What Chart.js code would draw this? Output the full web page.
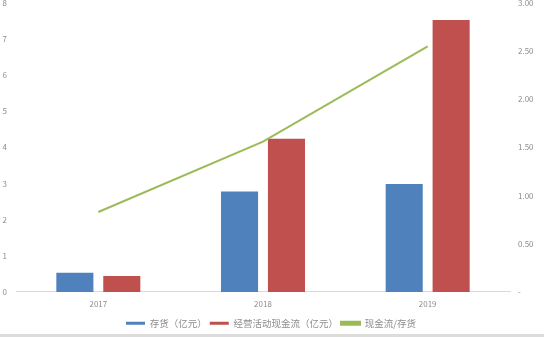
<!DOCTYPE html>
<html>
<head>
<meta charset="utf-8">
<script src="https://cdn.jsdelivr.net/npm/chart.js@4"></script>
<style>
  html, body { margin: 0; padding: 0; background: #fff; overflow: hidden; }
  #wrap { position: relative; width: 544px; height: 338px; }
  #bottom-rule { position: absolute; left: 0; top: 334px; width: 544px; height: 3px; background: #dcdcdc; }
</style>
</head>
<body>
<div id="wrap"><canvas id="chart"></canvas></div>
<div id="bottom-rule"></div>
<script>
var years = ['2017', '2018', '2019']
var inventory = [0.53, 2.78, 2.99]
var operatingCash = [0.44, 4.24, 7.53]
var cashToInventory = [0.83, 1.56, 2.55]

var font = { family: "'Noto Sans CJK SC', 'Noto Sans', sans-serif", size: 8 }
var grey = '#8c8c8c'

// y axes: fixed width and no extra room above the top tick
function fitAxis(width) {
    return function (scale) {
        scale.width = width;
        scale.paddingTop = 0;
        scale.paddingBottom = 0;
    };
}

var ctx = document.getElementById('chart').getContext('2d');
var chart = new Chart(ctx, {
    type: 'bar',
    data: {
        labels: years,
        datasets: [{
            label: '存货（亿元）',
            data: inventory,
            backgroundColor: '#4f81bd',
            yAxisID: 'y',
            order: 2
        }, {
            label: '经营活动现金流（亿元）',
            data: operatingCash,
            backgroundColor: '#c0504d',
            yAxisID: 'y',
            order: 2
        }, {
            type: 'line',
            label: '现金流/存货',
            data: cashToInventory,
            borderColor: '#9bbb59',
            backgroundColor: '#9bbb59',
            borderWidth: 2,
            pointRadius: 0,
            yAxisID: 'y1',
            order: 1
        }]
    },
    options: {
        responsive: true,
        maintainAspectRatio: false,
        animation: false,
        events: [],
        categoryPercentage: 0.57,
        barPercentage: 0.79,
        layout: { padding: { top: 3, left: 0, right: 2, bottom: 0 } },
        plugins: {
            legend: {
                position: 'bottom',
                labels: {
                    boxWidth: 19,
                    boxHeight: 3,
                    padding: 3,
                    color: grey,
                    font: { family: font.family, size: 9.5 },
                    sort: function (a, b) { return a.datasetIndex - b.datasetIndex; }
                }
            },
            tooltip: { enabled: false }
        },
        scales: {
            x: {
                grid: { display: false, drawTicks: false },
                border: { display: true, color: '#d9d9d9' },
                ticks: { color: grey, font: font, padding: 7 }
            },
            y: {
                position: 'left',
                min: 0,
                max: 8,
                grid: { display: false, drawTicks: false },
                border: { display: false },
                ticks: { stepSize: 1, color: grey, font: font, padding: 9 },
                afterFit: fitAxis(16)
            },
            y1: {
                position: 'right',
                min: 0,
                max: 3,
                grid: { display: false, drawTicks: false },
                border: { display: false },
                ticks: {
                    stepSize: 0.5,
                    color: grey,
                    font: font,
                    padding: 8,
                    callback: function (v) { return v === 0 ? '-' : v.toFixed(2); }
                },
                afterFit: fitAxis(32)
            }
        }
    }
});
</script>
</body>
</html>
